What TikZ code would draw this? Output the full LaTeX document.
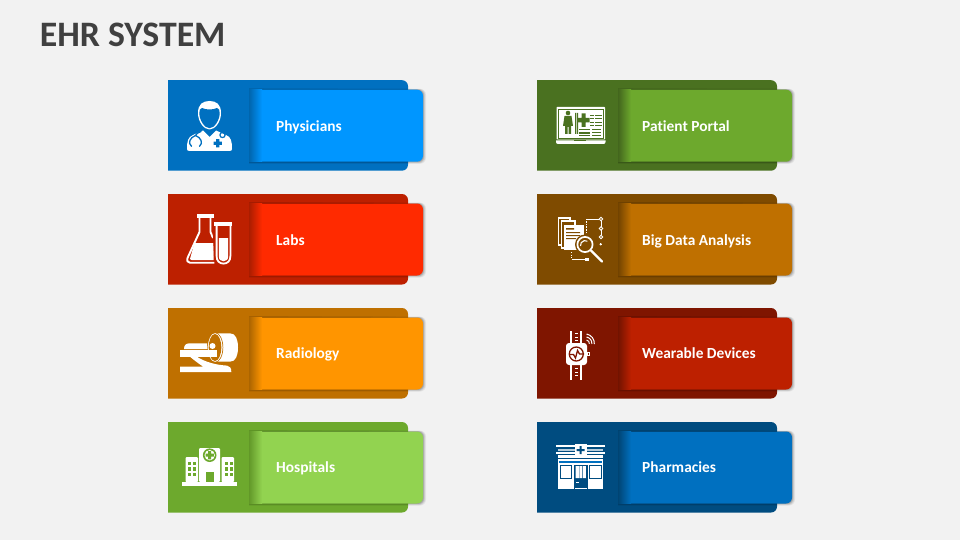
\documentclass[tikz,border=0pt]{standalone}
\usepackage{fontspec}
\setmainfont{Carlito}[Ligatures=NoCommon]
\definecolor{pagebg}{HTML}{F2F2F2}
\definecolor{titlecol}{HTML}{404040}
\definecolor{bluedk}{HTML}{0070C0}\definecolor{bluelt}{HTML}{0096FF}
\definecolor{reddk}{HTML}{BD2000}\definecolor{redlt}{HTML}{FF2A00}
\definecolor{orgdk}{HTML}{BF7000}\definecolor{orglt}{HTML}{FF9500}
\definecolor{grndk}{HTML}{6DA92D}\definecolor{grnlt}{HTML}{92D350}
\definecolor{ogrdk}{HTML}{4A7120}\definecolor{ogrlt}{HTML}{6DA92D}
\definecolor{brndk}{HTML}{7F4B00}\definecolor{brnlt}{HTML}{BF7000}
\definecolor{maroondk}{HTML}{7F1500}\definecolor{maroonlt}{HTML}{BD2000}
\definecolor{navydk}{HTML}{004C80}\definecolor{navylt}{HTML}{0070C0}
\tikzset{
  cardlabel/.style={anchor=base west,inner sep=0pt,text=white,font=\fontsize{15.4}{18}\selectfont\bfseries},
  titletext/.style={anchor=base west,inner sep=0pt,text=titlecol,font=\fontsize{35.8}{40}\selectfont\bfseries},
  icline/.style={draw=white,line width=1.3,fill=none},
}
% #1 x, #2 y, #3 back colour, #4 front colour
\newcommand{\cardshape}[4]{%
  \begin{scope}[shift={(#1,#2)}]
    \fill[#3] (0,0) [rounded corners=6] -- (240,0) -- (240,90.5) [sharp corners] -- (0,90.5) -- cycle;
    \foreach \d/\o in {3/0.06,2.2/0.08,1.4/0.10,0.7/0.13}{
      \fill[black,opacity=\o] (81,9.5-\d*0.5) [rounded corners=6] -- (255+\d,9.5-\d*0.3) -- (255+\d,81.5+\d*0.7) [sharp corners] -- (81,81.5+\d*0.7) -- cycle;
    }
    \fill[#4] (81,9.5) [rounded corners=6] -- (255,9.5) -- (255,81.5) [sharp corners] -- (81,81.5) -- cycle;
    \shade[left color=#3!90!black,right color=#4] (81,9.5) rectangle (94,81.5);
  \end{scope}
}
\begin{document}
\begin{tikzpicture}[x=1pt,y=-1pt]
\useasboundingbox (0,0) rectangle (960,540);
\fill[pagebg] (0,0) rectangle (960,540);
\node[titletext] (title) at (39.6,46.8) {EHR SYSTEM};

\cardshape{168}{80.2}{bluedk}{bluelt}
\cardshape{168}{194}{reddk}{redlt}
\cardshape{168}{308}{orgdk}{orglt}
\cardshape{168}{422}{grndk}{grnlt}
\cardshape{537}{80.2}{ogrdk}{ogrlt}
\cardshape{537}{194}{brndk}{brnlt}
\cardshape{537}{308}{maroondk}{maroonlt}
\cardshape{537}{422}{navydk}{navylt}

\node[cardlabel] (physicians) at (276,131.6) {Physicians};
\node[cardlabel] (labs) at (276,245) {Labs};
\node[cardlabel] (radiology) at (276,358.3) {Radiology};
\node[cardlabel] (hospitals) at (276,472) {Hospitals};
\node[cardlabel] (portal) at (642,131.6) {Patient Portal};
\node[cardlabel] (bigdata) at (642,245) {Big Data Analysis};
\node[cardlabel] (wearable) at (642,358.3) {Wearable Devices};
\node[cardlabel] (pharmacies) at (642,472) {Pharmacies};

% --- doctor icon
\fill[white] (187,149) .. controls (187,141) and (188,137) .. (193,135) -- (203,130.5) -- (209.5,137) -- (216,130.5) -- (226,135) .. controls (231,137) and (232,141) .. (232,149) .. controls (232,150.5) and (231,151) .. (229,151) -- (190,151) .. controls (188,151) and (187,150.5) .. (187,149) -- cycle;
\fill[white] (198,113) .. controls (198,104) and (203,101) .. (209.5,101) .. controls (216,101) and (221,104) .. (221,113) .. controls (221,122) and (215,129.5) .. (209.5,129.5) .. controls (204,129.5) and (198,122) .. (198,113) -- cycle;
\fill[bluedk] (199.3,113) .. controls (199.3,110) and (200,108.5) .. (202,108) .. controls (206,110) and (213,110) .. (217,108) .. controls (219,108.5) and (219.7,110) .. (219.7,113) .. controls (219.7,120) and (214.5,128.2) .. (209.5,128.2) .. controls (204.5,128.2) and (199.3,120) .. (199.3,113) -- cycle;
\draw[bluedk,line width=1.3,line cap=round] (201,131.5) .. controls (197.5,133) and (196,134) .. (195.5,135.5) .. controls (190,137.5) and (187.5,143) .. (191.5,146.3) (195.5,135.5) .. controls (201,137.5) and (203.5,143) .. (199.5,146.3);
\draw[bluedk,line width=1.2] (222.5,135) circle (2.6);
\fill[bluedk] (216,139.2) rectangle (219.4,147.4) (213.6,141.6) rectangle (221.8,145);

% --- flask and tube
\fill[white] (196.5,214) rectangle (213.5,218);
\draw[icline,line width=1.9,line join=round] (199.5,218) -- (199.5,232) -- (187.5,258) .. controls (186.5,261) and (188,262.7) .. (190,262.7) -- (215,262.7);
\draw[icline,line width=1.9] (210.5,218) -- (210.5,232) -- (213,238);
\fill[white] (194.5,243) -- (213.5,243) -- (213.5,260) -- (191.5,260) .. controls (190,260) and (189.5,258.5) .. (190.5,257) -- cycle;
\fill[reddk] (212.5,226) -- (214.5,266) -- (234,266) -- (234,226) -- cycle;
\fill[white] (214.2,222) rectangle (232,225.8);
\draw[icline,line width=1.8] (216.6,225) -- (216.6,256) .. controls (216.6,261) and (219.5,263.6) .. (223.5,263.6) .. controls (227.5,263.6) and (230.4,261) .. (230.4,256) -- (230.4,225);
\fill[white] (218.8,238) -- (228.2,238) -- (228.2,256) .. controls (228.2,259.5) and (226.5,261.3) .. (223.5,261.3) .. controls (220.5,261.3) and (218.8,259.5) .. (218.8,256) -- cycle;

% --- scanner
\fill[white] (215,333.3) -- (230,333.3) .. controls (236,333.3) and (238,340) .. (238,347.5) .. controls (238,355) and (236,361.7) .. (230,361.7) -- (215,361.7) -- cycle;
\draw[orgdk,line width=0.7] (215,332.8) arc[start angle=-90,end angle=90,x radius=7.9,y radius=14.7];
\fill[orgdk] (207,332.5) rectangle (215,362.5);
\fill[white] (215,347.5) ellipse (7.1 and 14.3);
\fill[orgdk] (215,347.5) ellipse (6.3 and 13.5);
\fill[white] (212.5,346) circle (3);
\fill[white] (184,349) .. controls (184,345) and (186,343.3) .. (190,343.3) -- (207,343.3) -- (207.5,349) -- cycle;
\fill[white] (180,350) -- (217,350) -- (217,356.8) -- (180,356.8) -- cycle;
\fill[white] (190,356.8) -- (197,356.8) .. controls (205,362) and (216,365) .. (227,365.6) .. controls (230,366) and (231.3,368) .. (231.3,372) -- (180,372) -- (180,366.5) -- (203,366.5) .. controls (199,364) and (194,360) .. (190,356.8) -- cycle;

% --- hospital
\fill[white] (182,482) rectangle (237,486);
\fill[white,rounded corners=1.2] (199,482) -- (199,448) -- (220,448) -- (220,482) -- cycle;
\fill[white,rounded corners=1] (185.5,482) -- (185.5,457) -- (198,457) -- (198,482) -- cycle;
\fill[white,rounded corners=1] (221.5,482) -- (221.5,457) -- (234,457) -- (234,482) -- cycle;
\fill[grndk] (209.7,455.2) circle (6.8);
\fill[white] (209.7,455.2) circle (5.2);
\fill[grndk] (208.2,451) rectangle (211.2,459.4) (205.5,453.7) rectangle (213.9,456.7);
\fill[grndk] (205.7,472) rectangle (214,482);
\foreach \wx in {188,193,224.5,229.5}{\foreach \wy in {461.5,467,472.5}{
  \fill[grndk] (\wx,\wy) rectangle ++(3.3,3.6);}}

% --- laptop portal
\fill[white,rounded corners=0.6] (556.5,107) rectangle (605,139.5);
\fill[white] (556,140.5) -- (605.5,140.5) -- (605.5,142) .. controls (605.5,143.5) and (604.5,144) .. (603,144) -- (558.5,144) .. controls (557,144) and (556,143.5) .. (556,142) -- cycle;
\fill[ogrdk] (574,140.5) rectangle (586,141.3);
\draw[ogrdk,line width=0.8] (558.3,109) rectangle (603.2,138);
\fill[ogrdk] (568,113) circle (2.3);
\fill[ogrdk] (564.5,116) -- (571.5,116) -- (573,126) -- (571,126) -- (571,134) -- (568.5,134) -- (568.5,127) -- (567.5,127) -- (567.5,134) -- (565,134) -- (565,126) -- (563,126) -- cycle;
\fill[ogrdk] (575,113) rectangle (576.4,134) (577.2,113) rectangle (578,134);
\fill[ogrdk] (581.5,113.5) rectangle (585.5,127) (577.5,118) rectangle (589.5,122.5);
\foreach \ly in {115,118.5,122,125.5}{\fill[ogrdk] (590,\ly) rectangle (594,\ly+1); \fill[ogrdk] (595,\ly) rectangle (602,\ly+1);}
\foreach \ly in {129,132.5,135}{\fill[ogrdk] (578.5,\ly) rectangle (590,\ly+1.2); \fill[ogrdk] (592,\ly) rectangle (601,\ly+1);}

% --- big data
\draw[white,line width=1.1,fill=brndk] (558.5,218) rectangle (570,245);
\draw[white,line width=1.1,fill=brndk] (561.5,221) rectangle (575,248);
\fill[white] (564,225) rectangle (584,250);
\fill[brndk] (566,228) rectangle (574,229.5) (566,232) rectangle (580,233) (566,235) rectangle (580,236) (566,238) rectangle (576,239);
\draw[white,line width=1.1,dash pattern=on 1.5 off 1.2] (586.5,236) -- (586.5,219);
\draw[white,line width=1] (586.5,219) -- (599,219);
\draw[white,line width=0.9] (601,219) circle (1.7) (601,228.5) circle (1.7) (601,237) circle (1.7);
\draw[white,line width=0.9] (601,220.7) -- (601,226.8) (601,230.2) -- (601,235.3);
\fill[brndk] (585,244.5) circle (10);
\draw[white,line width=1.7] (585,244.5) circle (7.6);
\draw[white,line width=1.1] (580.5,246) arc[start angle=170,end angle=300,radius=4.6];
\draw[white,line width=2.2,line cap=round] (591,250.5) -- (602,261.5);
\fill[white] (599.6,243.8) rectangle (601.8,244.8) (600.2,243.2) rectangle (601.2,245.4);
\draw[white,line width=1,dash pattern=on 1.3 off 1.2] (571.5,252) -- (571.5,259);
\draw[white,line width=1] (571.5,259.3) -- (587,259.3);
\fill[white] (585,258) rectangle (589,260.5);

% --- watch
\draw[white,line width=1.1] (571,343) -- (571,330.5) (581,343) -- (581,330.5) (571,365) -- (571,379.5) (581,365) -- (581,379.5);
\foreach \sy in {333,336.5,340,368,371.5,375}{\fill[white] (574.5,\sy) rectangle (577.5,\sy+1.3);}
\fill[white,rounded corners=3] (566,343) rectangle (587,365);
\fill[white] (587,351.5) rectangle (590,356);
\fill[maroondk] (587.7,352.7) rectangle (589,354.8);
\draw[maroondk,line width=1.3] (576.3,354) circle (7);
\draw[maroondk,line width=1.3] (569,354.5) -- (573.5,354.5) -- (575.5,358) -- (577.5,350.5) -- (579.5,354) -- (584,354);
\draw[white,line width=1] (586.5,340) arc[start angle=-80,end angle=5,radius=3.5];
\draw[white,line width=1] (586.5,337) arc[start angle=-80,end angle=5,radius=6.5];
\draw[white,line width=1] (586.5,334) arc[start angle=-80,end angle=5,radius=9.5];

% --- pharmacy
\fill[white] (556,445) rectangle (605,447.3);
\fill[white,opacity=.72] (558,449) rectangle (603,451);
\fill[white] (556,452.3) rectangle (605,454);
\fill[white] (574.5,444) rectangle (587,456);
\fill[navydk] (579.7,446) rectangle (581.7,454) (576.7,449) rectangle (584.7,451);
\fill[white] (558,455) rectangle (603,489);
\fill[navydk] (558,458) rectangle (603,459);
\fill[navylt] (559,460.5) rectangle (602,463);
\draw[navydk,line width=0.9,fill=white] (560.5,465.5) rectangle (571,478.5);
\draw[navydk,line width=0.9,fill=white] (589.5,465.5) rectangle (601,478.5);
\fill[navydk] (573.5,464.5) rectangle (587.5,488.8);
\fill[white] (575.5,466) rectangle (578.8,478) (579.4,466) rectangle (582.2,478) (582.8,466) rectangle (585.8,478);
\fill[white] (576,482) rectangle (579,483);
\fill[white] (574.5,487.5) rectangle (586.5,488.5);
\end{tikzpicture}
\end{document}
